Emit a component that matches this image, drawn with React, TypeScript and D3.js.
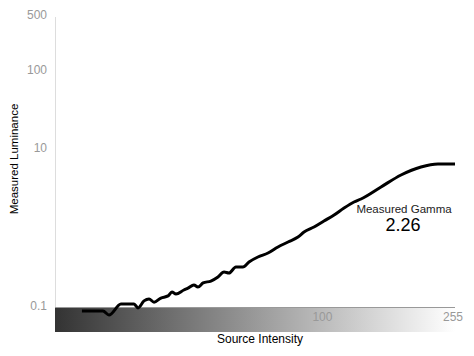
import React from "react";
import * as d3 from "d3";

const intensity = [0.48, 1.84, 2.42, 3.86, 5.87, 6.58, 7.74, 8.79, 9.92, 11.6, 13.5, 14.6, 15.8, 18.3, 19.7, 21.8, 23.3, 25.3, 28.5, 31.6, 34.4, 36.8, 40.3, 44.0, 47.4, 52.6, 58.9, 65.5, 72.6, 80.0, 84.7, 92.8, 101.3, 110.4, 119.8, 129.6, 136.8, 158.5, 182, 207.4, 230.5, 255];
const luminance = [0.085, 0.085, 0.0755, 0.104, 0.104, 0.093, 0.114, 0.121, 0.110, 0.124, 0.132, 0.148, 0.140, 0.157, 0.166, 0.182, 0.171, 0.193, 0.204, 0.230, 0.266, 0.258, 0.308, 0.308, 0.356, 0.412, 0.463, 0.552, 0.639, 0.740, 0.856, 0.991, 1.181, 1.408, 1.728, 2.06, 2.25, 3.2, 4.54, 5.74, 6.26, 6.26];
const yTicks = [0.1, 10, 100, 500];
const xTicks = [100, 255];
const gammaValue = "2.26";

export default function App() {
  const W = 474, H = 356;
  const x = d3.scalePow().exponent(0.43).domain([0, 255]).range([55, 455]);
  const y = d3.scaleLog().domain([0.1, 500]).range([305.4, 14.3]);
  const pts: [number, number][] = intensity.map((v, i) => [v, luminance[i]]);
  const line = d3.line<[number, number]>().x(d => x(d[0])).y(d => y(d[1])).curve(d3.curveMonotoneX);
  const font = "'Liberation Sans', Arial, Helvetica, sans-serif";
  return (
    <svg width={W} height={H} style={{ position: "absolute", left: 0, top: 0, background: "#fff" }} fontFamily={font}>
      <defs>
        <linearGradient id="bar" x1="0" x2="1" y1="0" y2="0">
          <stop offset="0" stopColor="#333" />
          <stop offset="1" stopColor="#fff" />
        </linearGradient>
      </defs>
      <line x1={55.5} x2={55.5} y1={17} y2={307} stroke="#ddd" strokeWidth={1} />
      <rect x={x(0)} y={307} width={x(255) - x(0)} height={25} fill="url(#bar)" />
      <line x1={x(0)} x2={x(255)} y1={307.5} y2={307.5} stroke="#999" strokeWidth={1} />
      {yTicks.map(t => (
        <text key={t} x={47} y={y(t)} dy="0.35em" textAnchor="end" fontSize={12} fill="#999">{t}</text>
      ))}
      {xTicks.map(t => (
        <text key={t} x={x(t) - (t === 255 ? 2 : 0)} y={321} textAnchor="middle" fontSize={12} fill="#999">{t}</text>
      ))}
      <text x={260} y={343} textAnchor="middle" fontSize={12} fill="#000">Source Intensity</text>
      <text transform="translate(18,159) rotate(-90)" textAnchor="middle" fontSize={11.5} fill="#000">Measured Luminance</text>
      <path d={line(pts) || ""} fill="none" stroke="#000" strokeWidth={3} strokeLinejoin="round" />
      <text x={404} y={213} textAnchor="middle" fontSize={11.5} fill="#222">Measured Gamma</text>
      <text x={403} y={231} textAnchor="middle" fontSize={18} fill="#000">{gammaValue}</text>
    </svg>
  );
}
